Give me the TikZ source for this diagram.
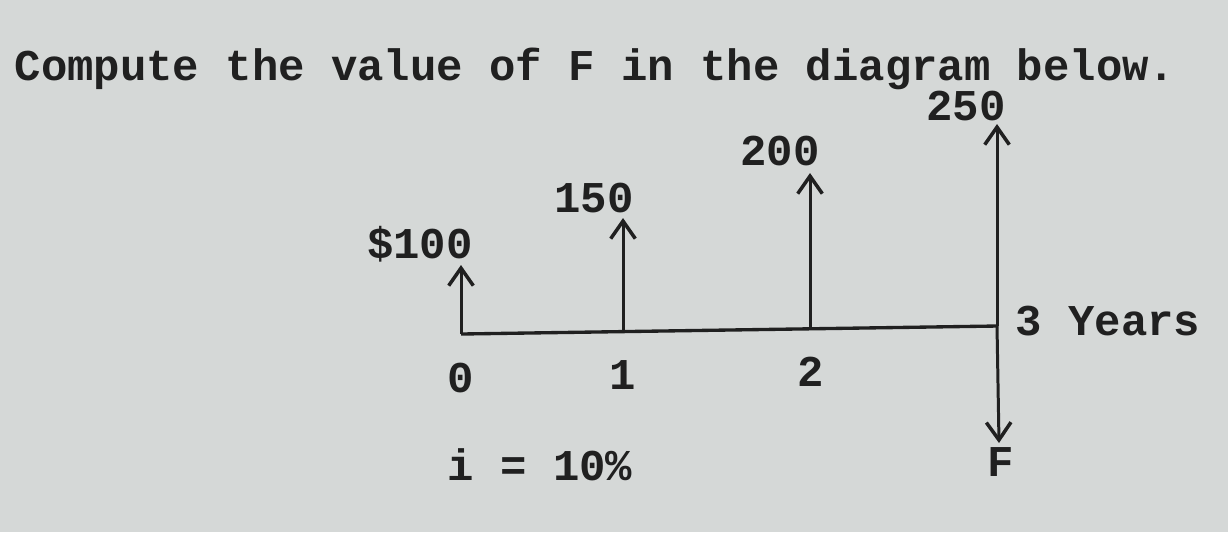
\documentclass[tikz,border=0pt]{standalone}
\usepackage{fontspec}
\setmainfont{Liberation Mono}
\usetikzlibrary{arrows.meta}
\definecolor{paper}{RGB}{213,216,215}
\definecolor{ink}{RGB}{32,32,32}
\begin{document}
\begin{tikzpicture}[x=0.01cm,y=-0.01cm,
  lbl/.style={font=\fontsize{12.5}{15}\selectfont\bfseries, text=ink, inner sep=0pt},
  flow/.style={draw=ink, line width=0.85pt, -{Straight Barb[length=5pt,width=7pt,line width=1pt]}},
  axisline/.style={draw=ink, line width=0.95pt}]
\fill[paper] (0,0) rectangle (1228,532);
\useasboundingbox (0,0) rectangle (1228,532);
% title
\node[lbl, anchor=base west] (title) at (14,80) {Compute the value of F in the diagram below.};
% time line points
\coordinate (b0) at (461,334);
\coordinate (b1) at (623,331);
\coordinate (b2) at (810,328);
\coordinate (b3) at (997,326);
\coordinate (tip0) at (461,265);
\coordinate (tip1) at (623,218);
\coordinate (tip2) at (810,173);
\coordinate (tip3) at (997,124);
\coordinate (end3) at (999,443);
% axis
\draw[axisline] (b0) -- (b3);
% cash flows
\draw[flow] (b0) -- (tip0);
\draw[flow] (b1) -- (tip1);
\draw[flow] (b2) -- (tip2);
\draw[flow] (b3) -- (tip3);
\draw[flow] (b3) -- (end3);
% amounts
\node[lbl, anchor=base] (a0) at (420,258) {\$100};
\node[lbl, anchor=base] (a1) at (594,212) {150};
\node[lbl, anchor=base] (a2) at (780,165) {200};
\node[lbl, anchor=base] (a3) at (966,120) {250};
\node[lbl] (f) at (1001,462) {F};
% periods
\node[lbl] (p0) at (461,378) {0};
\node[lbl] (p1) at (623,375) {1};
\node[lbl] (p2) at (811,372) {2};
\node[lbl, anchor=base west] (years) at (1015,335) {3 Years};
% rate
\node[lbl, anchor=base west] (rate) at (447,480) {i = 10\%};
\end{tikzpicture}
\end{document}
